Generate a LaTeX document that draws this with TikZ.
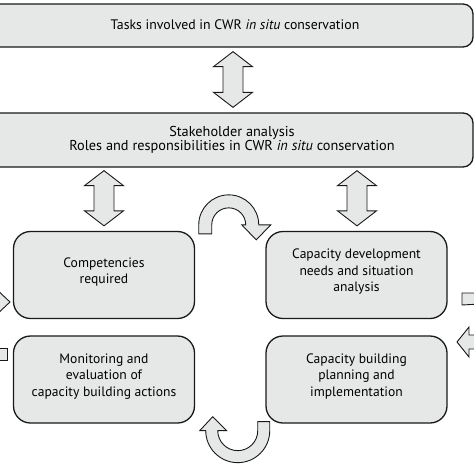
\documentclass[tikz,border=0pt]{standalone}
\usepackage{fontspec}
\setmainfont{PT Sans}
\usetikzlibrary{calc}
\definecolor{boxfill}{RGB}{230,232,232}
\definecolor{edge}{RGB}{25,25,25}
\tikzset{
  bigbox/.style={draw=edge, line width=1.3pt, fill=boxfill, rounded corners=10pt, inner sep=0pt},
  stepbox/.style={draw=edge, line width=1.3pt, fill=boxfill, rounded corners=17pt,
     inner sep=0pt, minimum width=181pt, minimum height=87pt},
  bigtxt/.style={align=center, inner sep=0pt, font=\fontsize{13.8}{14}\selectfont},
  stktxt/.style={align=center, inner sep=0pt, font=\fontsize{14.3}{14}\selectfont},
  steptxt/.style={align=center, inner sep=0pt, font=\fontsize{13.6}{16.5}\selectfont, yshift=3pt},
  arr/.style={draw=edge, line width=0.9pt, fill=boxfill, line join=miter}
}
\newcommand\vdbl[2]{%
  \draw[arr] let \p1=(#1), \p2=(#2) in
   (\x1,\y1) -- (\x1+19.5pt,\y1-15pt) -- (\x1+10pt,\y1-15pt) -- (\x1+10pt,\y2+15pt)
   -- (\x1+19.5pt,\y2+15pt) -- (\x2,\y2) -- (\x1-19.5pt,\y2+15pt) -- (\x1-10pt,\y2+15pt)
   -- (\x1-10pt,\y1-15pt) -- (\x1-19.5pt,\y1-15pt) -- cycle;}
\begin{document}
\begin{tikzpicture}[x=1pt,y=-1pt]
\useasboundingbox (0,0) rectangle (474,474);
\clip (0,0) rectangle (474,474);
% boxes
\node[bigbox, minimum width=493pt, minimum height=43pt,
  label={[bigtxt,xshift=8.5pt,yshift=1pt]center:Tasks involved in CWR \textit{in situ} conservation}]
  (tasks) at (226.5,25.5) {};
\node[bigbox, minimum width=493pt, minimum height=54pt,
  label={[stktxt,xshift=5.5pt,yshift=0pt]center:Stakeholder analysis\\Roles and responsibilities in CWR \textit{in situ} conservation}]
  (stake) at (226.5,140) {};
\node[stepbox, label={[steptxt]center:Competencies\\required}] (comp) at (104,275) {};
\node[stepbox, label={[steptxt]center:Capacity development\\needs and situation\\analysis}] (capdev) at (356.5,275) {};
\node[stepbox, label={[steptxt]center:Monitoring and\\evaluation of\\capacity building actions}] (monit) at (104,379.5) {};
\node[stepbox, label={[steptxt]center:Capacity building\\planning and\\implementation}] (capbuild) at (356.5,379.5) {};
% double arrows
\coordinate (ax1) at (233,0);
\coordinate (ax2) at (104,0);
\coordinate (ax3) at (357,0);
\vdbl{$(tasks.south -| ax1)+(0,4)$}{$(stake.north -| ax1)+(0,-5)$}
\vdbl{$(stake.south -| ax2)+(0,3)$}{$(comp.north -| ax2)+(0,-5)$}
\vdbl{$(stake.south -| ax3)+(0,3)$}{$(capdev.north -| ax3)+(0,-5)$}
% curved arrow top (comp -> capdev)
\coordinate (ct) at ($(comp.north east)!0.5!(capdev.north west)+(-1.5,-6)$);
\draw[arr] ($(ct)+(-30,9)$) -- ($(ct)+(-30,0)$) arc[start angle=180,end angle=360,radius=30]
  -- ($(ct)+(42,0)$) -- ($(ct)+(27.5,15)$) -- ($(ct)+(13,0)$) -- ($(ct)+(17,0)$)
  arc[start angle=0,end angle=-180,radius=17] -- ($(ct)+(-17,9)$) -- cycle;
% curved arrow bottom (capbuild -> monit)
\coordinate (cb) at ($(monit.south east)!0.5!(capbuild.south west)+(7.5,7)$);
\draw[arr] ($(cb)+(32,-9)$) -- ($(cb)+(32,0)$) arc[start angle=0,end angle=180,radius=32]
  -- ($(cb)+(-38,0)$) -- ($(cb)+(-25,-14)$) -- ($(cb)+(-11,0)$) -- ($(cb)+(-20,0)$)
  arc[start angle=180,end angle=0,radius=20] -- ($(cb)+(20,-9)$) -- cycle;
% side arrows (cut off at the picture edges)
\draw[arr] (-6,287) -- (10,302) -- (-6,317) -- cycle;
\draw[arr] (-6,348) rectangle (7,360);
\draw[arr] (480,293) -- (462,293) -- (462,305) -- (480,304);
\draw[arr] (480,335) -- (469,335) -- (469,327) -- (457,342) -- (469,357) -- (469,349) -- (480,349);
\end{tikzpicture}
\end{document}
